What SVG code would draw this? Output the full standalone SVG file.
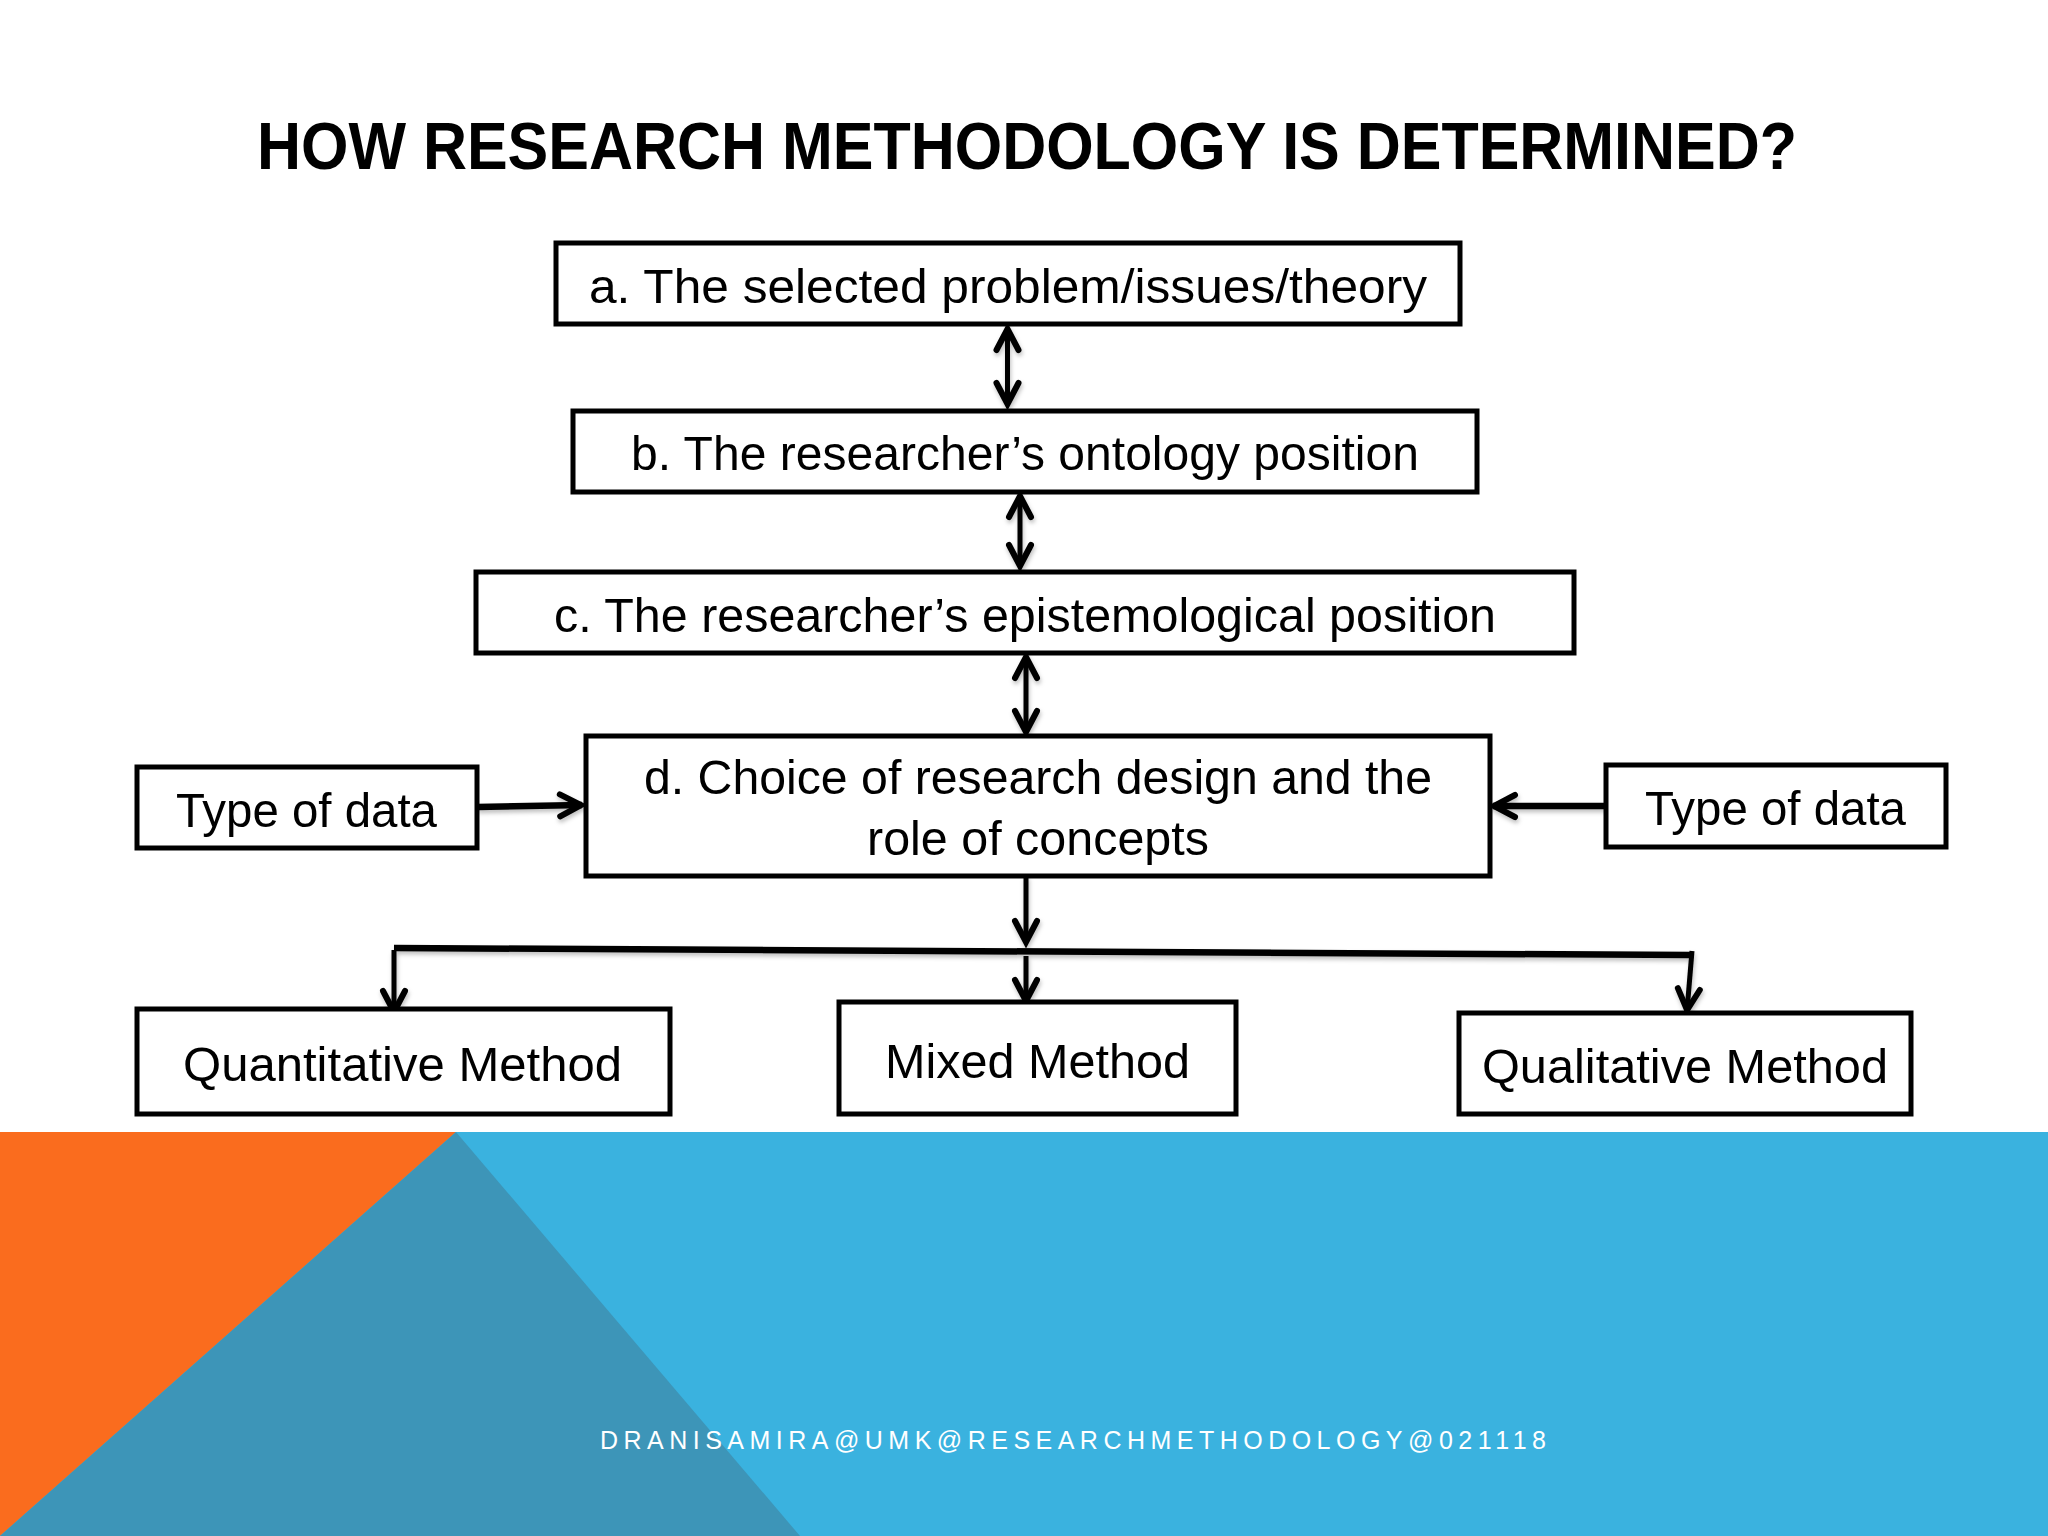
<svg xmlns="http://www.w3.org/2000/svg" width="2048" height="1536" viewBox="0 0 2048 1536">
<style>
.box{fill:#fff;stroke:#000;stroke-width:5}
.t{font-family:"Liberation Sans",Arial,sans-serif;font-size:49px;fill:#000}
.title{font-family:"Liberation Sans",Arial,sans-serif;font-size:67px;font-weight:bold;fill:#000}
.foot{font-family:"Liberation Sans",Arial,sans-serif;font-size:25px;fill:#fff}
.c{fill:none;stroke:#000;stroke-width:5}
.w{stroke-width:6.500}
</style>
<defs>
<marker id="a" markerUnits="userSpaceOnUse" markerWidth="30" markerHeight="36" refX="25" refY="18" orient="auto-start-reverse" overflow="visible">
<path d="M3,7 L24,18 L3,29" fill="none" stroke="#000" stroke-width="6" stroke-linecap="round"/>
</marker>
<filter id="s" x="-5%" y="-20%" width="110%" height="140%"><feDropShadow dx="1" dy="3" stdDeviation="2" flood-color="#000" flood-opacity="0.25"/></filter>
</defs>
<rect width="2048" height="1536" fill="#fff"/>
<g id="background">
<rect x="0" y="1132" width="2048" height="404" fill="#3AB2DF"/>
<polygon points="0,1132 456,1132 0,1536" fill="#FA6C1E"/>
<polygon points="456,1132 800,1536 0,1536" fill="#3D95B8"/>
</g>
<text id="title" class="title" x="257" y="169" textLength="1540" lengthAdjust="spacingAndGlyphs">HOW RESEARCH METHODOLOGY IS DETERMINED?</text>
<g id="connectors" filter="url(#s)">
<path class="c" d="M1007.500,328 V405" marker-start="url(#a)" marker-end="url(#a)"/>
<path class="c" d="M1020,495 V567" marker-start="url(#a)" marker-end="url(#a)"/>
<path class="c" d="M1026,656 V733" marker-start="url(#a)" marker-end="url(#a)"/>
<path class="c w" d="M477,807 L582,805" marker-end="url(#a)"/>
<path class="c w" d="M1606,806 H1493" marker-end="url(#a)"/>
<path class="c" d="M1026,876 V943" marker-end="url(#a)"/>
<path class="c w" d="M394,948 L1692,955"/>
<path class="c" d="M394,950 V1013" marker-end="url(#a)"/>
<path class="c" d="M1026,956 V1002" marker-end="url(#a)"/>
<path class="c" d="M1692,951 L1687,1011" marker-end="url(#a)"/>
</g>
<g id="node-a"><rect class="box" x="556" y="243" width="904" height="81"/><text class="t" x="589" y="303" textLength="838" lengthAdjust="spacingAndGlyphs">a. The selected problem/issues/theory</text></g>
<g id="node-b"><rect class="box" x="573" y="411" width="904" height="81"/><text class="t" x="631" y="470" textLength="788" lengthAdjust="spacingAndGlyphs">b. The researcher’s ontology position</text></g>
<g id="node-c"><rect class="box" x="476" y="572" width="1098" height="81"/><text class="t" x="554" y="632" textLength="942" lengthAdjust="spacingAndGlyphs">c. The researcher’s epistemological position</text></g>
<g id="node-d"><rect class="box" x="586" y="736" width="904" height="140"/><text class="t" x="644" y="794" textLength="788" lengthAdjust="spacingAndGlyphs">d. Choice of research design and the</text><text class="t" x="867" y="855" textLength="342" lengthAdjust="spacingAndGlyphs">role of concepts</text></g>
<g id="node-type-left"><rect class="box" x="137" y="767" width="340" height="81"/><text class="t" x="176" y="827" textLength="261" lengthAdjust="spacingAndGlyphs">Type of data</text></g>
<g id="node-type-right"><rect class="box" x="1606" y="765" width="340" height="82"/><text class="t" x="1645" y="825" textLength="261" lengthAdjust="spacingAndGlyphs">Type of data</text></g>
<g id="node-quant"><rect class="box" x="137" y="1009" width="533" height="105"/><text class="t" x="183" y="1081" textLength="439" lengthAdjust="spacingAndGlyphs">Quantitative Method</text></g>
<g id="node-mixed"><rect class="box" x="839" y="1002" width="397" height="112"/><text class="t" x="885" y="1078" textLength="305" lengthAdjust="spacingAndGlyphs">Mixed Method</text></g>
<g id="node-qual"><rect class="box" x="1459" y="1013" width="452" height="101"/><text class="t" x="1482" y="1083" textLength="406" lengthAdjust="spacingAndGlyphs">Qualitative Method</text></g>
<text id="footer" class="foot" x="600" y="1449" textLength="946" lengthAdjust="spacing">DRANISAMIRA@UMK@RESEARCHMETHODOLOGY@021118</text>
</svg>
